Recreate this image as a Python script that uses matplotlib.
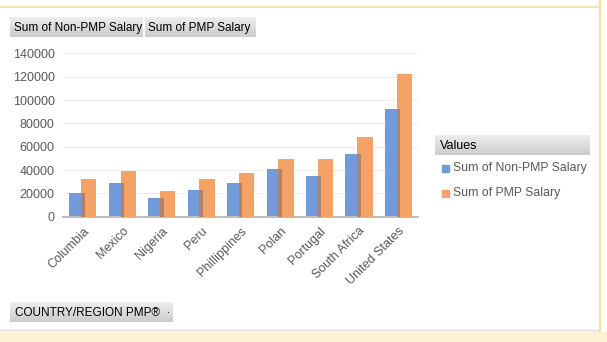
import matplotlib.pyplot as plt
import numpy as np
from matplotlib.patches import Rectangle

countries = ['Columbia', 'Mexico', 'Nigeria', 'Peru', 'Phillippines', 'Polan',
             'Portugal', 'South Africa', 'United States']
non_pmp = [20600, 29200, 16300, 22900, 29000, 40900, 35200, 53500, 92400]
pmp = [32300, 39200, 22300, 32300, 37800, 49800, 49800, 68400, 122500]
yticks = [0, 20000, 40000, 60000, 80000, 100000, 120000, 140000]

blue = '#739ad9'
orange = '#f4a266'
shade = '#b0826a'
txt = '#595959'

plt.rcParams['font.family'] = ['Liberation Sans', 'DejaVu Sans']

fig = plt.figure(figsize=(6.07, 3.42), dpi=100)
fig.patch.set_facecolor('white')

# yellow frame bits (pivot chart window)
fig.add_artist(Rectangle((0, 0), 1, 0.028, transform=fig.transFigure, color='#fdf1d3', zorder=0))
fig.add_artist(plt.Line2D([0, 0.988], [0.034, 0.034], transform=fig.transFigure, color='#dcdcdc', lw=1))
fig.add_artist(plt.Line2D([0.988, 0.988], [0.028, 1], transform=fig.transFigure, color='#f7dfa5', lw=1.5))
fig.add_artist(plt.Line2D([0, 0.988], [0.98, 0.98], transform=fig.transFigure, color='#f7e3b0', lw=1.5))

ax = fig.add_axes([0.104, 0.366, 0.585, 0.478])
x = np.arange(len(countries))
w = 0.39
ax.bar(x - 0.15, non_pmp, w, color=blue, zorder=2)
ax.bar(x + 0.15, pmp, w, color=orange, zorder=3)
# darker strip where the orange bar overlaps the blue one
ax.bar(x, non_pmp, w - 0.30, color=shade, zorder=4)

ax.set_xlim(-0.5, len(countries) - 0.5)
ax.set_ylim(0, 140000)
ax.set_yticks(yticks)
ax.set_yticklabels([str(v) for v in yticks], fontsize=9, color=txt)
ax.set_xticks(x)
ax.set_xticklabels(countries, rotation=45, ha='right', rotation_mode='anchor',
                   fontsize=9, color=txt)
ax.tick_params(length=0, pad=6)
ax.grid(axis='y', color='#eeeeee', lw=0.8, zorder=0)
for s in ['top', 'right', 'left']:
    ax.spines[s].set_visible(False)
ax.spines['bottom'].set_color('#bfbfbf')
ax.spines['bottom'].set_linewidth(1.5)

# field buttons
def button(x0, y0, wd, ht, label, size=8.5):
    grad = np.linspace(0.93, 0.80, 20).reshape(-1, 1)
    bax = fig.add_axes([x0, y0, wd, ht])
    bax.imshow(np.dstack([grad, grad, grad]), aspect='auto', extent=[0, 1, 0, 1], origin='upper')
    bax.set_axis_off()
    bax.text(0.03, 0.45, label, fontsize=size, color='black', va='center', ha='left',
             transform=bax.transAxes)
    return bax

button(10 / 607, 1 - 37 / 342, 133 / 607, 20 / 342, 'Sum of Non-PMP Salary')
button(145 / 607, 1 - 37 / 342, 110 / 607, 20 / 342, 'Sum of PMP Salary')
button(10 / 607, 1 - 322 / 342, 163 / 607, 20 / 342, 'COUNTRY/REGION PMP\u00ae  \u00b7')
button(435 / 607, 1 - 155 / 342, 155 / 607, 20 / 342, 'Values', size=9)

# legend items
for i, (lab, c) in enumerate([('Sum of Non-PMP Salary', blue), ('Sum of PMP Salary', orange)]):
    yy = 1 - (168 + 25 * i) / 342
    fig.add_artist(Rectangle((442 / 607, yy - 3.5 / 342), 7 / 607, 7 / 342,
                             transform=fig.transFigure, color=c))
    fig.text(453 / 607, yy, lab, fontsize=8.8, color=txt, va='center', ha='left')

fig.savefig('out.png', dpi=100)
